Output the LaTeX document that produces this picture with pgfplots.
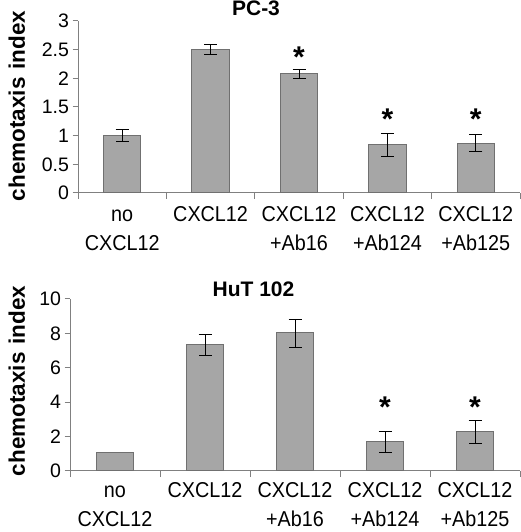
\documentclass[border=0pt]{standalone}
\usepackage{fontspec}
\setmainfont{Liberation Sans}
\newfontfamily\catfont[FakeStretch=0.92]{Liberation Sans}
\usepackage{pgfplots}
\pgfplotsset{compat=1.18}
\definecolor{barfill}{HTML}{A6A6A6}
\definecolor{baredge}{HTML}{707070}
\definecolor{axgray}{HTML}{808080}
\pgfplotsset{
  mystyle/.style={
    scale only axis, anchor=south west,
    xmin=-0.5, xmax=4.5, ymin=0,
    axis x line*=bottom, axis y line*=left,
    axis line style={axgray, line width=1pt, -},
    tick align=outside,
    tick style={axgray, line width=1pt},
    major tick length=5.5pt, minor tick length=6pt,
    xtick={0,...,4},
    major x tick style={draw=none},
    minor xtick={-0.5,0.5,...,4.5},
    xticklabels={{\strut no\\CXCL12},{\strut CXCL12},{\strut CXCL12\\+Ab16},{\strut CXCL12\\+Ab124},{\strut CXCL12\\+Ab125}},
    xticklabel style={align=center, font=\catfont\fontsize{21.5}{28.5}\selectfont, text=black},
    yticklabel style={font=\fontsize{19.5}{20}\selectfont, text=black},
    /pgf/number format/assume math mode=true,
    clip=false,
  },
  barsty/.style={ybar, bar width=37.5pt, fill=barfill, draw=baredge, line width=1pt},
  errsty/.style={draw=none, mark=none,
    error bars/.cd, y dir=both, y explicit,
    error bar style={draw=black, line width=0.9pt},
    error mark options={rotate=90, draw=black, line width=0.9pt, mark size=6.5pt}},
  starsty/.style={draw=none, mark=none, nodes near coords={*},
    every node near coord/.append style={font=\fontsize{30}{30}\selectfont\bfseries, anchor=center, yshift=-6pt, text=black}},
}
\begin{document}
\begin{tikzpicture}[x=1pt,y=1pt]
\useasboundingbox (0,0) rectangle (520,532);
% ---------- PC-3 ----------
\begin{axis}[mystyle, at={(78pt,339pt)}, width=442pt, height=172pt,
  ymax=3, ytick={0,0.5,...,3}]
\addplot[barsty] coordinates {(0,1.0) (1,2.5) (2,2.08) (3,0.84) (4,0.87)};
\addplot[errsty] coordinates {(0,1.0) +- (0,0.1) (1,2.5) +- (0,0.09) (2,2.08) +- (0,0.08) (3,0.84) +- (0,0.2) (4,0.87) +- (0,0.15)};
\addplot[starsty] coordinates {(2,2.48) (3,1.40) (4,1.40)};
\end{axis}
% ---------- HuT 102 ----------
\begin{axis}[mystyle, at={(70pt,61pt)}, width=450pt, height=172pt,
  ymax=10, ytick={0,2,...,10}, xticklabel style={yshift=2pt}]
\addplot[barsty] coordinates {(0,1.05) (1,7.33) (2,8.04) (3,1.72) (4,2.28)};
\addplot[errsty] coordinates {(1,7.33) +- (0,0.63) (2,8.0) +- (0,0.82) (3,1.68) +- (0,0.62) (4,2.28) +- (0,0.67)};
\addplot[starsty] coordinates {(3,4.05) (4,4.05)};
\end{axis}
\node[font=\fontsize{21}{21}\selectfont\bfseries, anchor=base] at (256,516) {PC-3};
\node[font=\fontsize{21}{21}\selectfont\bfseries, anchor=base] at (253.5,235.3) {HuT 102};
\node[font=\fontsize{22.5}{22.5}\selectfont\bfseries, anchor=base, rotate=90] at (25,426) {chemotaxis\hspace{0.35em}index};
\node[font=\fontsize{22.5}{22.5}\selectfont\bfseries, anchor=base, rotate=90] at (25,151) {chemotaxis\hspace{0.35em}index};
\end{tikzpicture}
\end{document}
